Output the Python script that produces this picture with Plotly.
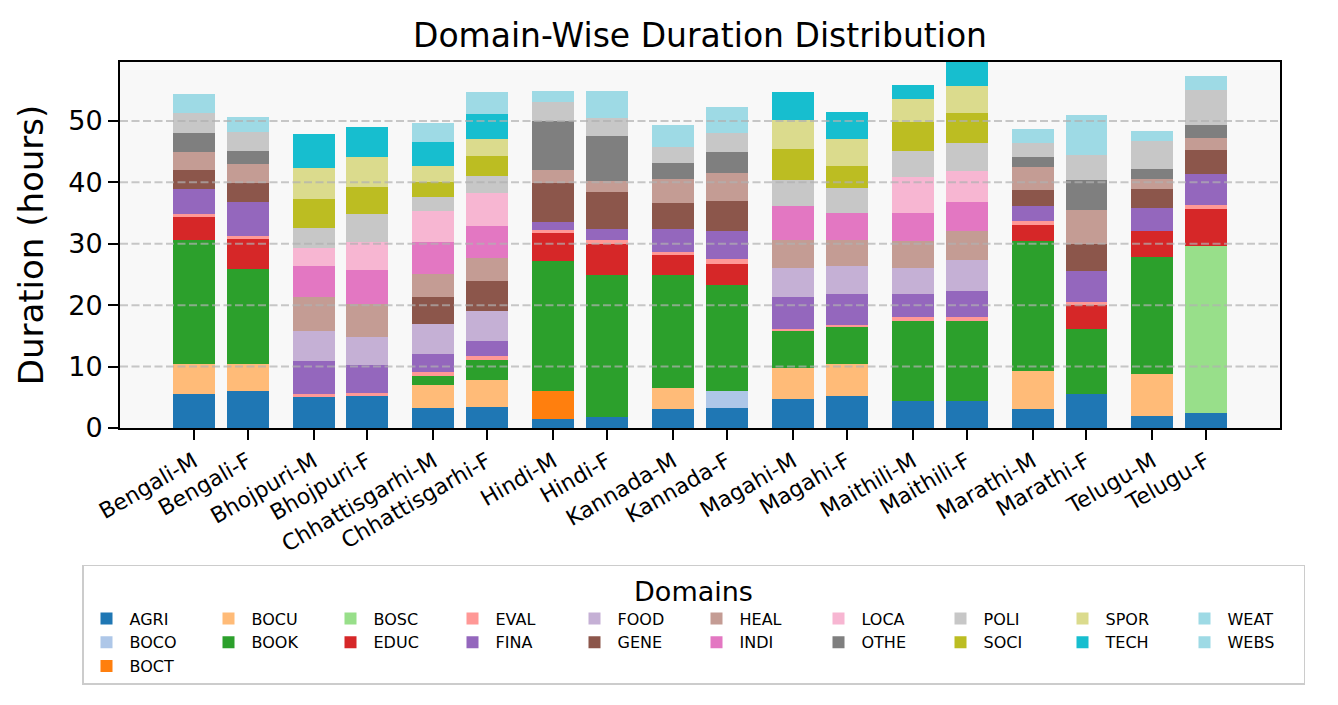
import plotly.graph_objects as go

languages = ["Bengali", "Bhojpuri", "Chhattisgarhi", "Hindi", "Kannada",
             "Magahi", "Maithili", "Marathi", "Telugu"]
genders = ["M", "F"]
categories = [f"{lang}-{g}" for lang in languages for g in genders]

domains = ["AGRI", "BOCO", "BOCT", "BOCU", "BOOK", "BOSC", "EDUC", "EVAL", "FINA",
           "FOOD", "GENE", "HEAL", "INDI", "LOCA", "OTHE", "POLI", "SOCI", "SPOR",
           "TECH", "WEAT", "WEBS"]

AGRI = [5.58, 6.07, 5.09, 5.26, 3.31, 3.47, 1.52, 1.84, 3.14, 3.31, 4.77, 5.26, 4.44, 4.44, 3.14, 5.58, 2.01, 2.49]
BOCO = [0, 0, 0, 0, 0, 0, 0, 0, 0, 2.76, 0, 0, 0, 0, 0, 0, 0, 0]
BOCT = [0, 0, 0, 0, 0, 0, 4.55, 0, 0, 0, 0, 0, 0, 0, 0, 0, 0, 0]
BOCU = [4.88, 4.39, 0, 0, 3.74, 4.39, 0, 0, 3.42, 0, 5.04, 5.20, 0, 0, 6.18, 0, 6.82, 0]
BOOK = [20.16, 15.50, 0, 0, 1.46, 3.25, 21.14, 23.09, 18.37, 17.24, 6.02, 6.02, 13.01, 13.01, 21.14, 10.57, 19.03, 0]
BOSC = [0, 0, 0, 0, 0, 0, 0, 0, 0, 0, 0, 0, 0, 0, 0, 0, 0, 27.16]
EDUC = [3.74, 4.88, 0, 0, 0, 0, 4.55, 5.04, 3.25, 3.41, 0, 0, 0, 0, 2.60, 3.90, 4.23, 6.01]
EVAL = [0.49, 0.43, 0.49, 0.49, 0.65, 0.65, 0.49, 0.65, 0.49, 0.81, 0.32, 0.32, 0.65, 0.65, 0.65, 0.49, 0, 0.65]
FINA = [4.07, 5.53, 5.37, 4.55, 2.93, 2.44, 1.30, 1.79, 3.74, 4.56, 5.21, 5.04, 3.74, 4.23, 2.44, 5.04, 3.74, 5.05]
FOOD = [0, 0, 4.88, 4.55, 4.87, 4.88, 0, 0, 0, 0, 4.71, 4.56, 4.23, 5.04, 0, 0, 0, 0]
GENE = [3.08, 3.15, 0, 0, 4.40, 4.88, 6.34, 6.02, 4.23, 4.87, 0, 0, 0, 0, 2.60, 4.39, 3.09, 3.90]
HEAL = [2.93, 3.03, 5.53, 5.37, 3.73, 3.74, 2.11, 1.79, 3.90, 4.56, 4.55, 4.22, 4.39, 4.72, 3.74, 5.53, 1.62, 1.95]
INDI = [0, 0, 5.04, 5.53, 5.21, 5.20, 0, 0, 0, 0, 5.53, 4.39, 4.55, 4.71, 0, 0, 0, 0]
LOCA = [0, 0, 2.92, 4.55, 5.04, 5.37, 0, 0, 0, 0, 0, 0, 5.86, 5.04, 0, 0, 0, 0]
OTHE = [3.09, 2.12, 0, 0, 0, 0, 7.97, 7.31, 2.60, 3.41, 0, 0, 0, 0, 1.63, 4.88, 1.63, 2.11]
POLI = [3.31, 3.03, 3.25, 4.55, 2.28, 2.76, 3.09, 2.88, 2.61, 3.09, 4.23, 4.07, 4.22, 4.56, 2.28, 4.06, 4.55, 5.69]
SOCI = [0, 0, 4.72, 4.39, 2.43, 3.25, 0, 0, 0, 0, 5.04, 3.58, 4.72, 4.87, 0, 0, 0, 0]
SPOR = [0, 0, 5.04, 4.88, 2.61, 2.77, 0, 0, 0, 0, 4.72, 4.39, 3.74, 4.39, 0, 0, 0, 0]
TECH = [0, 0, 5.53, 4.88, 3.90, 4.06, 0, 0, 0, 0, 4.55, 4.39, 2.28, 4.00, 0, 0, 0, 0]
WEAT = [0] * 18
WEBS = [3.03, 2.49, 0, 0, 3.09, 3.58, 1.79, 4.44, 3.57, 4.23, 0, 0, 0, 0, 2.27, 6.51, 1.63, 2.28]

yticks = [0, 10, 20, 30, 40, 50]

series = {"AGRI": AGRI, "BOCO": BOCO, "BOCT": BOCT, "BOCU": BOCU, "BOOK": BOOK,
          "BOSC": BOSC, "EDUC": EDUC, "EVAL": EVAL, "FINA": FINA, "FOOD": FOOD,
          "GENE": GENE, "HEAL": HEAL, "INDI": INDI, "LOCA": LOCA, "OTHE": OTHE,
          "POLI": POLI, "SOCI": SOCI, "SPOR": SPOR, "TECH": TECH, "WEAT": WEAT,
          "WEBS": WEBS}

tab20 = ["#1f77b4", "#aec7e8", "#ff7f0e", "#ffbb78", "#2ca02c", "#98df8a",
         "#d62728", "#ff9896", "#9467bd", "#c5b0d5", "#8c564b", "#c49c94",
         "#e377c2", "#f7b6d2", "#7f7f7f", "#c7c7c7", "#bcbd22", "#dbdb8d",
         "#17becf", "#9edae5"]

# bar positions: each language group at integer index, M/F offset
offset = 0.225
bar_w = 0.35
xpos = []
for i, _ in enumerate(languages):
    xpos.append(i - offset)
    xpos.append(i + offset)

# legend ordering to mimic column-major matplotlib legend (10 columns)
ncol = 10
n = len(domains)
base, extra = divmod(n, ncol)
col_sizes = [base + (1 if c < extra else 0) for c in range(ncol)]
rank = {}
idx = 0
for c in range(ncol):
    for r in range(col_sizes[c]):
        rank[domains[idx]] = r * ncol + c + 1
        idx += 1

fig = go.Figure()
for k, d in enumerate(domains):
    fig.add_trace(go.Bar(
        x=xpos, y=series[d], width=bar_w, name=d,
        marker=dict(color=tab20[min(k, len(tab20) - 1)], line=dict(width=0)),
        legendrank=rank[d] * 10, hoverinfo="skip",
    ))

FONT = "DejaVu Sans"
plot_l, plot_w = 120, 1338 - 120 - 58
fig.update_layout(
    barmode="stack",
    width=1338, height=705,
    margin=dict(l=plot_l, r=58, t=62, b=277, autoexpand=False),
    paper_bgcolor="white",
    plot_bgcolor="#f8f8f8",
    font=dict(family=FONT, color="black"),
    title=dict(text="Domain-Wise Duration Distribution", x=0.5, xref="paper",
               xanchor="center", y=1 - 35 / 705, yref="container", yanchor="middle",
               font=dict(size=33, family=FONT, color="black")),
    showlegend=True,
    legend=dict(
        orientation="h", x=(82 - plot_l) / plot_w, xanchor="left", y=-0.374, yanchor="top",
        xref="paper", yref="paper",
        entrywidth=71, entrywidthmode="pixels", itemwidth=36,
        font=dict(size=16, family=FONT, color="black"),
        title=dict(text="Domains", side="top center", font=dict(size=27, family=FONT)),
        bgcolor="white", bordercolor="#cccccc", borderwidth=1.5,
        traceorder="normal",
    ),
)

fig.update_xaxes(
    range=[-0.84, len(languages) - 1 + 0.84],
    tickmode="array", tickvals=xpos, ticktext=categories,
    tickangle=-30, tickfont=dict(size=22, family=FONT, color="black"),
    ticks="outside", ticklen=10, tickwidth=2, tickcolor="black",
    showline=True, linecolor="black", linewidth=2, mirror=True,
    showgrid=False, zeroline=False,
)
fig.update_yaxes(
    range=[0, 59.6],
    tickmode="array", tickvals=yticks,
    tickfont=dict(size=27, family=FONT, color="black"),
    ticks="outside", ticklen=10, tickwidth=2, tickcolor="black",
    showline=True, linecolor="black", linewidth=2, mirror=True,
    showgrid=False, zeroline=False,
    title=dict(text="Duration (hours)", font=dict(size=34, family=FONT, color="black"),
               standoff=14),
)

# dashed horizontal gridlines drawn above bars (as in the reference)
for v in yticks[1:]:
    fig.add_shape(type="line", xref="paper", yref="y", x0=0, x1=1, y0=v, y1=v,
                  line=dict(color="rgba(176,176,176,0.7)", width=2, dash="8px,3.5px"),
                  layer="above")

fig.write_html("out.html")
